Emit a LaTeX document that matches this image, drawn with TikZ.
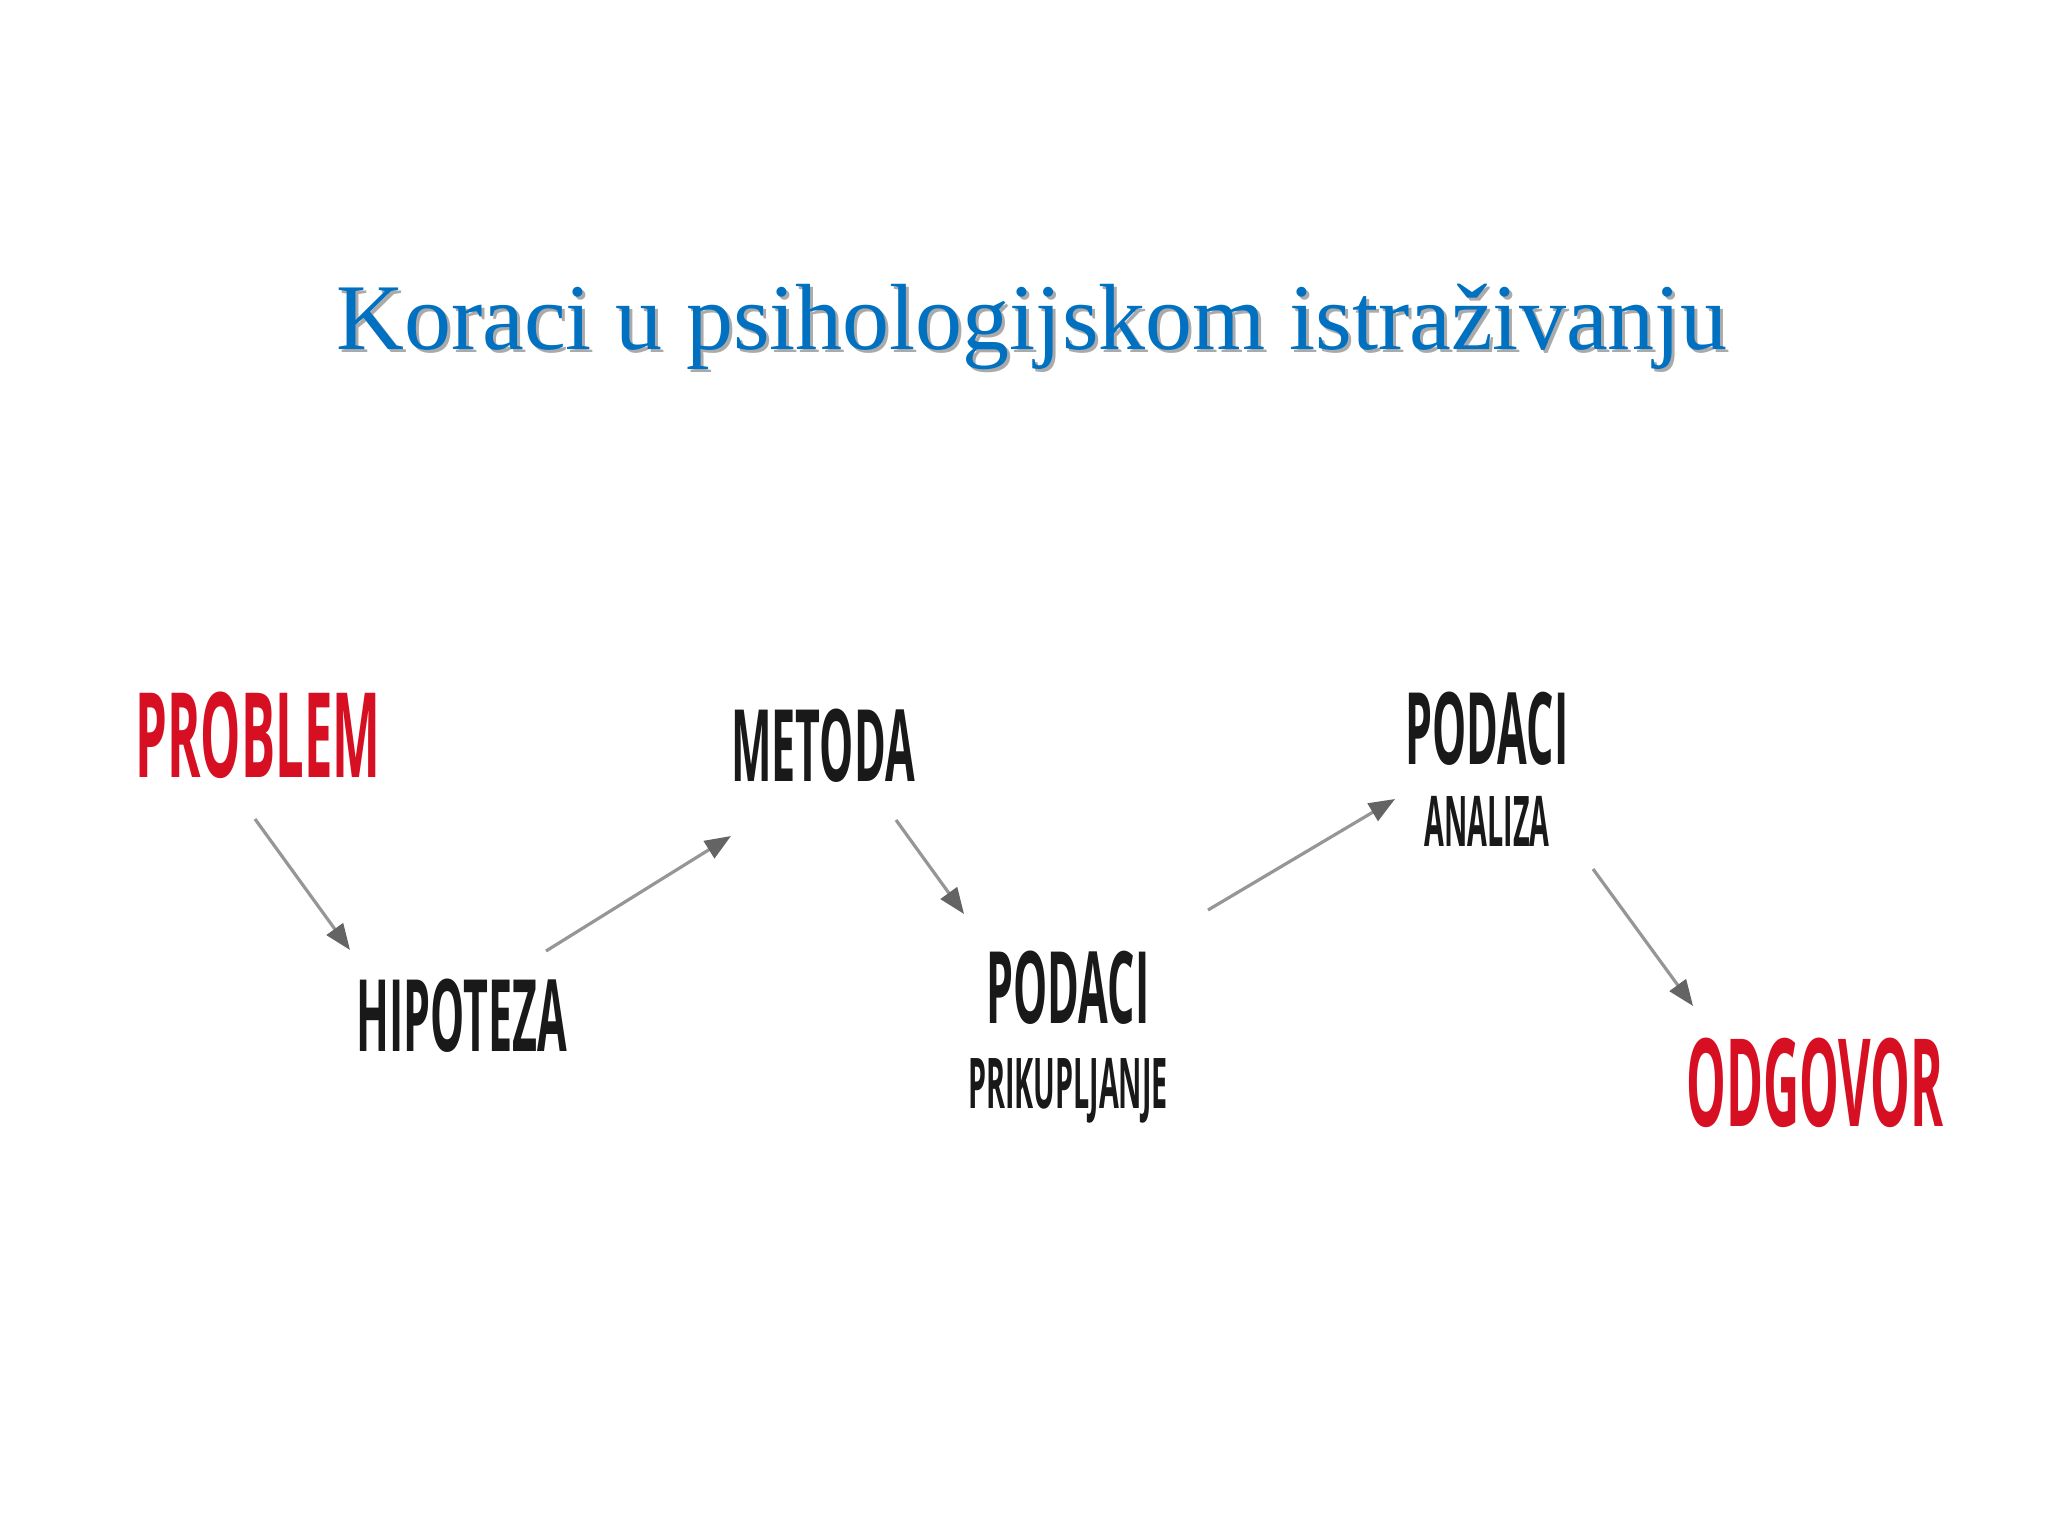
\documentclass[tikz,border=0pt]{standalone}
\usepackage{fontspec}
\usetikzlibrary{arrows.meta}
\setmainfont{Liberation Serif}
\newfontfamily\condfont[FakeStretch=0.43]{Open Sans}
\newfontfamily\narrowfont[FakeStretch=0.41]{Open Sans}
\definecolor{titleblue}{RGB}{0,112,192}
\definecolor{titleshadow}{RGB}{170,170,170}
\definecolor{stepred}{RGB}{215,15,35}
\definecolor{steptext}{RGB}{25,25,25}
\definecolor{arrowgray}{RGB}{150,150,150}
\definecolor{headgray}{RGB}{100,100,100}
\begin{document}
\begin{tikzpicture}[x=0.5pt,y=-0.5pt,
  lbl/.style={inner sep=0pt, anchor=base},
  redlabel/.style={lbl, text=stepred, font=\condfont\bfseries\fontsize{59pt}{60pt}\selectfont},
  mainlabel/.style={lbl, text=steptext, font=\condfont\bfseries\fontsize{50pt}{52pt}\selectfont},
  sublabel/.style={lbl, text=steptext, font=\narrowfont\bfseries\fontsize{35pt}{36pt}\selectfont},
  flowarrow/.style={draw=arrowgray, line width=1.6pt, -{Triangle[length=13pt,width=10pt,color=headgray]}}]
\useasboundingbox (0,0) rectangle (2048,1536);
\fill[white] (0,0) rectangle (2048,1536);
% title
\node[lbl, text=titleshadow, font=\fontsize{47pt}{49pt}\selectfont] (titleshadow) at (1035,352) {Koraci u psihologijskom istraživanju};
\node[lbl, text=titleblue, font=\fontsize{47pt}{49pt}\selectfont] (title) at (1032,349) {Koraci u psihologijskom istraživanju};
% steps
\node[redlabel] (problem) at (258,777) {PROBLEM};
\node[mainlabel] (hipoteza) at (462,1051) {HIPOTEZA};
\node[mainlabel] (metoda) at (823,781) {METODA};
\node[mainlabel] (podaci1) at (1068,1023) {PODACI};
\node[sublabel] (prikupljanje) at (1068,1108) {PRIKUPLJANJE};
\node[mainlabel] (podaci2) at (1487,764) {PODACI};
\node[sublabel] (analiza) at (1487,846) {ANALIZA};
\node[redlabel, font=\narrowfont\bfseries\fontsize{61pt}{62pt}\selectfont] (odgovor) at (1815,1126) {ODGOVOR};
% arrow ends
\coordinate (a1s) at (255,819);  \coordinate (a1e) at (350,950);
\coordinate (a2s) at (546,951);  \coordinate (a2e) at (731,836);
\coordinate (a3s) at (896,820);  \coordinate (a3e) at (964,914);
\coordinate (a4s) at (1208,910); \coordinate (a4e) at (1395,799);
\coordinate (a5s) at (1593,869); \coordinate (a5e) at (1693,1006);
\draw[flowarrow] (a1s) -- (a1e);
\draw[flowarrow] (a2s) -- (a2e);
\draw[flowarrow] (a3s) -- (a3e);
\draw[flowarrow] (a4s) -- (a4e);
\draw[flowarrow] (a5s) -- (a5e);
\end{tikzpicture}
\end{document}
